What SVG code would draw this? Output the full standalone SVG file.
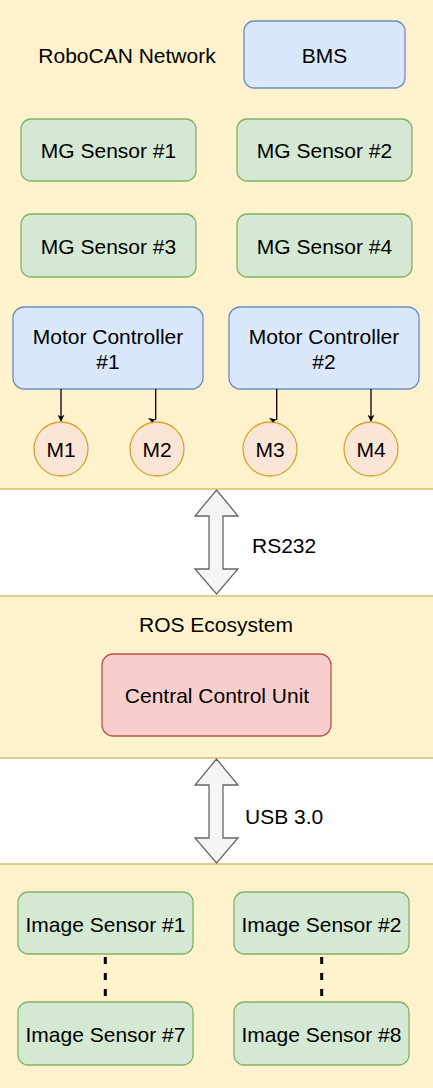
<svg xmlns="http://www.w3.org/2000/svg" width="433" height="1088" viewBox="0 0 433 1088">
<style>
text{font-family:"Liberation Sans",Arial,sans-serif;font-size:21px;fill:#000;}
.c{text-anchor:middle;}
.band{fill:#fff2cc;stroke:#d6b656;stroke-width:1.3;}
.green{fill:#d5e8d4;stroke:#82b366;stroke-width:1.3;}
.blue{fill:#dae8fc;stroke:#6c8ebf;stroke-width:1.3;}
.red{fill:#f8cecc;stroke:#b85450;stroke-width:1.3;}
.motor{fill:#fbe5d6;stroke:#d6a62a;stroke-width:1.3;}
.dbl{fill:#f5f5f5;stroke:#666;stroke-width:1.3;}
.edge{stroke:#000;stroke-width:1.3;fill:none;}
.dash{stroke:#000;stroke-width:3;stroke-dasharray:7 9;fill:none;}
</style>
<defs>
<marker id="arr" viewBox="0 0 10 10" refX="9" refY="5" markerWidth="7" markerHeight="7" markerUnits="userSpaceOnUse" orient="auto">
<path d="M0,0 L10,5 L0,10 L3,5 Z" fill="#000"/>
</marker>
</defs>
<rect width="433" height="1088" fill="#ffffff"/>
<g id="bands">
<rect class="band" x="-5" y="-5" width="443" height="494"/>
<rect class="band" x="-5" y="596" width="443" height="162"/>
<rect class="band" x="-5" y="864" width="443" height="230"/>
</g>
<g id="label-robocan"><text class="c" x="127" y="63">RoboCAN Network</text></g>
<g id="bms"><rect class="blue" x="244" y="21" width="161" height="67" rx="10"/><text class="c" x="324.5" y="63">BMS</text></g>
<g id="mg1"><rect class="green" x="21" y="119" width="175" height="62" rx="10"/><text class="c" x="108.5" y="158">MG Sensor #1</text></g>
<g id="mg2"><rect class="green" x="237" y="119" width="175" height="62" rx="10"/><text class="c" x="324.5" y="158">MG Sensor #2</text></g>
<g id="mg3"><rect class="green" x="21" y="214" width="175" height="63" rx="10"/><text class="c" x="108.5" y="254">MG Sensor #3</text></g>
<g id="mg4"><rect class="green" x="237" y="214" width="175" height="63" rx="10"/><text class="c" x="324.5" y="254">MG Sensor #4</text></g>
<g id="mc1"><rect class="blue" x="13" y="307" width="190" height="82" rx="11"/><text class="c" x="108" y="344">Motor Controller</text><text class="c" x="108" y="369">#1</text></g>
<g id="mc2"><rect class="blue" x="229" y="307" width="190" height="82" rx="11"/><text class="c" x="324" y="344">Motor Controller</text><text class="c" x="324" y="369">#2</text></g>
<g id="m1"><circle class="motor" cx="61" cy="449" r="27"/><text class="c" x="61" y="457">M1</text></g>
<g id="m2"><circle class="motor" cx="157" cy="449" r="27"/><text class="c" x="157" y="457">M2</text></g>
<g id="m3"><circle class="motor" cx="270" cy="449" r="27"/><text class="c" x="270" y="457">M3</text></g>
<g id="m4"><circle class="motor" cx="371" cy="449" r="27"/><text class="c" x="371" y="457">M4</text></g>
<g id="label-ros"><text class="c" x="216" y="632">ROS Ecosystem</text></g>
<g id="ccu"><rect class="red" x="102" y="654" width="229" height="82" rx="11"/><text class="c" x="217" y="703">Central Control Unit</text></g>
<g id="is1"><rect class="green" x="18" y="892" width="175" height="62" rx="10"/><text class="c" x="105.5" y="932">Image Sensor #1</text></g>
<g id="is2"><rect class="green" x="234" y="892" width="175" height="62" rx="10"/><text class="c" x="321.5" y="932">Image Sensor #2</text></g>
<g id="is7"><rect class="green" x="18" y="1002" width="175" height="63" rx="10"/><text class="c" x="105.5" y="1042">Image Sensor #7</text></g>
<g id="is8"><rect class="green" x="234" y="1002" width="175" height="63" rx="10"/><text class="c" x="321.5" y="1042">Image Sensor #8</text></g>
<g id="connectors">
<line class="edge" x1="61" y1="389" x2="61" y2="421" marker-end="url(#arr)"/>
<line class="edge" x1="155.7" y1="389" x2="155.7" y2="420"/>
<path d="M148,418 L155.5,419.5 L152,422.5 Z" fill="#000"/>
<line class="edge" x1="276.7" y1="389" x2="276.7" y2="420"/>
<path d="M269,418 L276.5,419.5 L273,422.5 Z" fill="#000"/>
<line class="edge" x1="371" y1="389" x2="371" y2="421" marker-end="url(#arr)"/>
<line class="dash" x1="105.3" y1="957" x2="105.3" y2="997"/>
<line class="dash" x1="321.7" y1="957" x2="321.7" y2="997"/>
<path class="dbl" d="M216.5,490 L238,516 L223,516 L223,569 L238,569 L216.5,594 L195,569 L209,569 L209,516 L195,516 Z"/>
<path class="dbl" d="M216.5,759 L238,785 L223,785 L223,838 L238,838 L216.5,863 L195,838 L209,838 L209,785 L195,785 Z"/>
<text x="252" y="553">RS232</text>
<text x="245" y="824">USB 3.0</text>
</g>
</svg>
